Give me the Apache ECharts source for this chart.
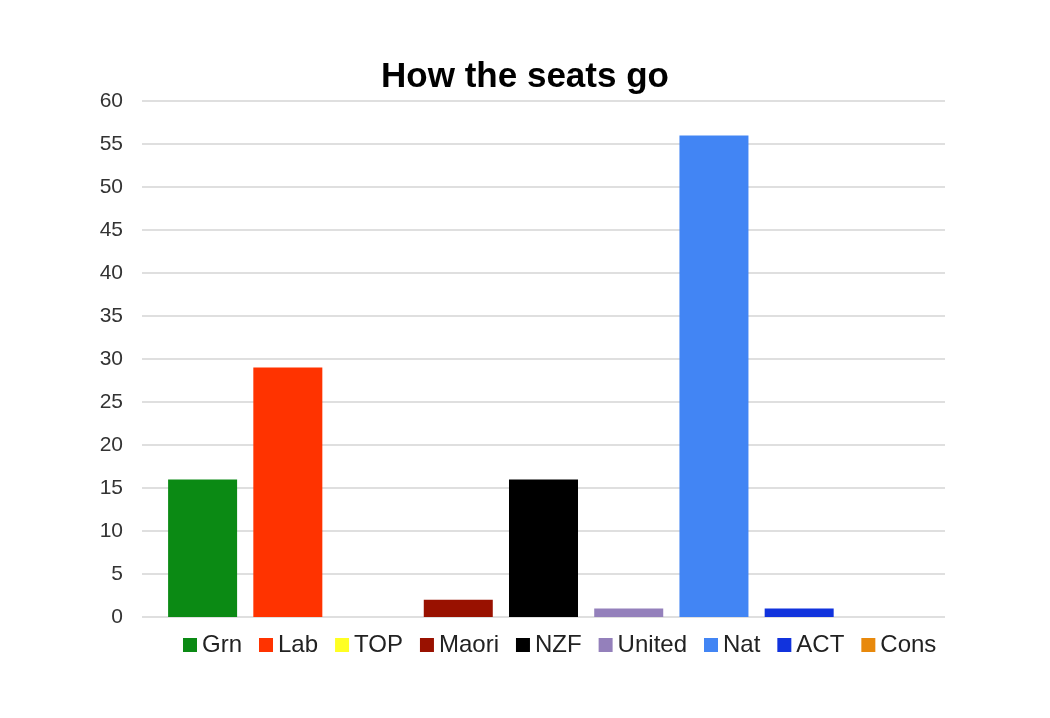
<!DOCTYPE html>
<html>
<head>
<meta charset="utf-8">
<script src="https://cdn.jsdelivr.net/npm/echarts@6/dist/echarts.min.js"></script>
<style>html,body{margin:0;padding:0;background:#fff;}#c{width:1050px;height:718px;}</style>
</head>
<body>
<div id="c"></div>
<script>
const parties = ['Grn','Lab','TOP','Maori','NZF','United','Nat','ACT','Cons'];
const seats = [16, 29, 0, 2, 16, 1, 56, 1, 0];
const colors = ['#0b8a14','#ff3300','#ffff22','#991100','#000000','#9480bb','#4285f4','#1133dd','#e8890c'];
const yTicks = [0,5,10,15,20,25,30,35,40,45,50,55,60];

const chart = echarts.init(document.getElementById('c'));
chart.setOption({
  animation: false,
  title: {
    text: 'How the seats go',
    left: 520, top: 55, textAlign: 'center',
    textStyle: {fontFamily: 'Liberation Sans, Arial', fontSize: 35, fontWeight: 'bold', color: '#000'}
  },
  legend: {
    data: parties,
    left: 183, top: 633, padding: 0,
    itemWidth: 14, itemHeight: 14, itemGap: 17,
    icon: 'rect',
    textStyle: {fontFamily: 'Liberation Sans, Arial', fontSize: 24, color: '#222'}
  },
  grid: {left: 142, right: 105, top: 101, bottom: 101},
  xAxis: {
    type: 'category', data: [''],
    axisLine: {show: false}, axisTick: {show: false}, axisLabel: {show: false}
  },
  yAxis: {
    type: 'value', min: yTicks[0], max: yTicks[yTicks.length-1], interval: 5,
    axisLine: {show: false}, axisTick: {show: false},
    axisLabel: {margin: 19, fontFamily: 'Liberation Sans, Arial', fontSize: 21, color: '#333'},
    splitLine: {lineStyle: {color: '#d4d4d4', width: 1.5}}
  },
  series: parties.map((p, i) => ({
    name: p, type: 'bar', data: [seats[i]],
    barGap: '23.5%', barCategoryGap: '6.5%',
    itemStyle: {color: colors[i]}
  }))
});
</script>
</body>
</html>
